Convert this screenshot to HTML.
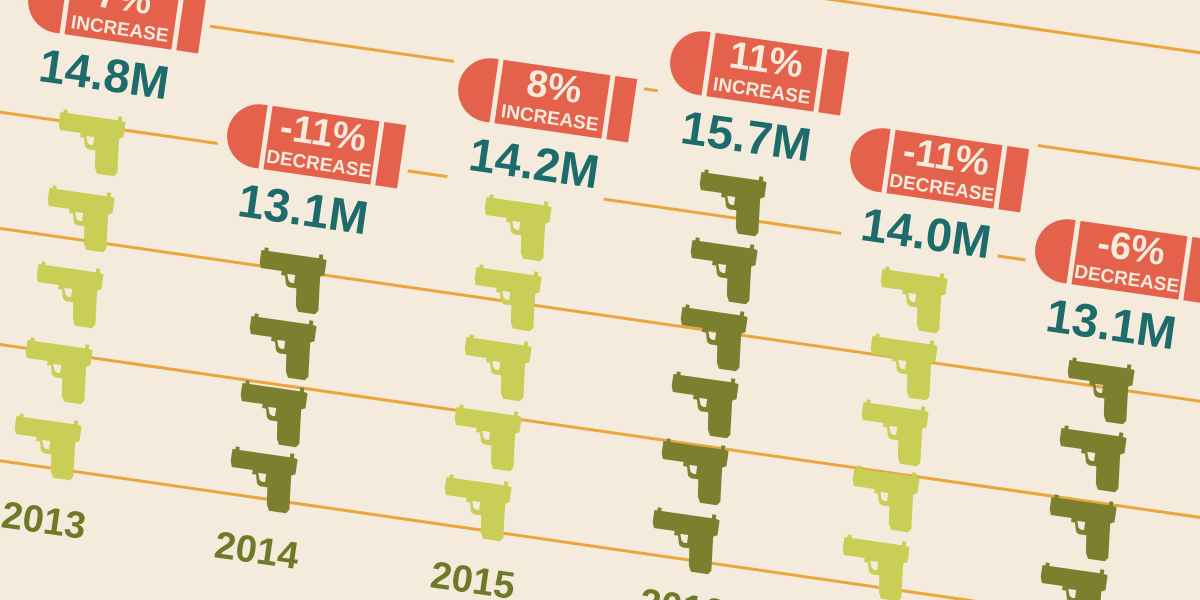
<!DOCTYPE html>
<html><head><meta charset="utf-8"><style>
html,body{margin:0;padding:0;background:#f5ebdd;width:1200px;height:600px;overflow:hidden;}
svg{display:block;}
text{font-family:"Liberation Sans",sans-serif;font-weight:bold;}
</style></head><body>
<svg width="1200" height="600" viewBox="0 0 1200 600" xmlns="http://www.w3.org/2000/svg">
<defs>
<path id="gun" fill-rule="evenodd" d="M0,4 L3,4 L3,1 L7,1 L7,4 L58,4 L58,0 L62,0 L62,4 L66,5 L66,20 L62,22 L63,34 L65,56 L62,60 L45,60 L42,54 L40,37 L36,37 Q31,38 29,34 L27,26 L23,26 L23,22 L2,22 L0,16 Z M29,24 L37,24 L37,32 Q33,33 31,30 Z"/>
<g id="badgeShape">
<rect x="-8" y="-8" width="192" height="80" fill="#f5ebdd"/>
<path d="M36,0 L36,64 L32,64 A32,32 0 0 1 32,0 Z" fill="#e4614b"/>
<rect x="41" y="0" width="108" height="64" fill="#e4614b"/>
<rect x="154" y="0" width="22" height="64" fill="#e4614b"/>
</g>
</defs>
<rect width="1200" height="600" fill="#f5ebdd"/>
<g transform="rotate(8.2)" stroke="#e8a63c" stroke-width="3">
<line x1="-200" y1="-119" x2="1500" y2="-119"/>
<line x1="-200" y1="-4" x2="1500" y2="-4"/>
<line x1="-200" y1="111" x2="1500" y2="111"/>
<line x1="-200" y1="226" x2="1500" y2="226"/>
<line x1="-200" y1="341" x2="1500" y2="341"/>
<line x1="-200" y1="456" x2="1500" y2="456"/>
</g>

<g font-size="38" text-anchor="middle">
<g transform="translate(33,-35) rotate(8.2)"><use href="#badgeShape"/><rect x="2" y="72" width="158" height="58" fill="#f5ebdd"/>
<text x="95" y="32" fill="#f7ebdc">7%</text><text x="95" y="57" font-size="19" fill="#f7ebdc">INCREASE</text>
<text x="86" y="114" font-size="47" fill="#1e6b6b">14.8M</text></g>
<g transform="translate(232,100) rotate(8.2)"><use href="#badgeShape"/><rect x="2" y="72" width="158" height="58" fill="#f5ebdd"/>
<text x="95" y="32" fill="#f7ebdc">-11%</text><text x="95" y="57" font-size="19" fill="#f7ebdc">DECREASE</text>
<text x="86" y="114" font-size="47" fill="#1e6b6b">13.1M</text></g>
<g transform="translate(463,54) rotate(8.2)"><use href="#badgeShape"/><rect x="2" y="72" width="158" height="58" fill="#f5ebdd"/>
<text x="95" y="32" fill="#f7ebdc">8%</text><text x="95" y="57" font-size="19" fill="#f7ebdc">INCREASE</text>
<text x="86" y="114" font-size="47" fill="#1e6b6b">14.2M</text></g>
<g transform="translate(675,27) rotate(8.2)"><use href="#badgeShape"/><rect x="2" y="72" width="158" height="58" fill="#f5ebdd"/>
<text x="95" y="32" fill="#f7ebdc">11%</text><text x="95" y="57" font-size="19" fill="#f7ebdc">INCREASE</text>
<text x="86" y="114" font-size="47" fill="#1e6b6b">15.7M</text></g>
<g transform="translate(855,124) rotate(8.2)"><use href="#badgeShape"/><rect x="2" y="72" width="158" height="58" fill="#f5ebdd"/>
<text x="95" y="32" fill="#f7ebdc">-11%</text><text x="95" y="57" font-size="19" fill="#f7ebdc">DECREASE</text>
<text x="86" y="114" font-size="47" fill="#1e6b6b">14.0M</text></g>
<g transform="translate(1040,215) rotate(8.2)"><use href="#badgeShape"/><rect x="2" y="72" width="158" height="58" fill="#f5ebdd"/>
<text x="95" y="32" fill="#f7ebdc">-6%</text><text x="95" y="57" font-size="19" fill="#f7ebdc">DECREASE</text>
<text x="86" y="114" font-size="47" fill="#1e6b6b">13.1M</text></g>
</g>

<g fill="#c9cf56">
<use href="#gun" transform="translate(61,108) rotate(8.2)"/>
<use href="#gun" transform="translate(50,184) rotate(8.2)"/>
<use href="#gun" transform="translate(39,260) rotate(8.2)"/>
<use href="#gun" transform="translate(28,336) rotate(8.2)"/>
<use href="#gun" transform="translate(17,412) rotate(8.2)"/>
<use href="#gun" transform="translate(487,193) rotate(8.2)"/>
<use href="#gun" transform="translate(477,263) rotate(8.2)"/>
<use href="#gun" transform="translate(467,333) rotate(8.2)"/>
<use href="#gun" transform="translate(457,403) rotate(8.2)"/>
<use href="#gun" transform="translate(447,473) rotate(8.2)"/>
<use href="#gun" transform="translate(883,265) rotate(8.2)"/>
<use href="#gun" transform="translate(873,332) rotate(8.2)"/>
<use href="#gun" transform="translate(864,398) rotate(8.2)"/>
<use href="#gun" transform="translate(855,464) rotate(8.2)"/>
<use href="#gun" transform="translate(845,533) rotate(8.2)"/>
</g>
<g fill="#7b802e">
<use href="#gun" transform="translate(262,246) rotate(8.2)"/>
<use href="#gun" transform="translate(252,312) rotate(8.2)"/>
<use href="#gun" transform="translate(243,379) rotate(8.2)"/>
<use href="#gun" transform="translate(233,445) rotate(8.2)"/>
<use href="#gun" transform="translate(702,168) rotate(8.2)"/>
<use href="#gun" transform="translate(693,236) rotate(8.2)"/>
<use href="#gun" transform="translate(683,303) rotate(8.2)"/>
<use href="#gun" transform="translate(674,370) rotate(8.2)"/>
<use href="#gun" transform="translate(664,437) rotate(8.2)"/>
<use href="#gun" transform="translate(655,506) rotate(8.2)"/>
<use href="#gun" transform="translate(1070,356) rotate(8.2)"/>
<use href="#gun" transform="translate(1062,424) rotate(8.2)"/>
<use href="#gun" transform="translate(1052,493) rotate(8.2)"/>
<use href="#gun" transform="translate(1043,561) rotate(8.2)"/>
</g>

<g fill="#6e7a28" font-size="38" text-anchor="middle">
<text transform="translate(42,533) rotate(8.2)">2013</text>
<text transform="translate(255,563) rotate(8.2)">2014</text>
<text transform="translate(471,593) rotate(8.2)">2015</text>
<text transform="translate(680,620) rotate(8.2)">2016</text>
</g>
</svg>
</body></html>
